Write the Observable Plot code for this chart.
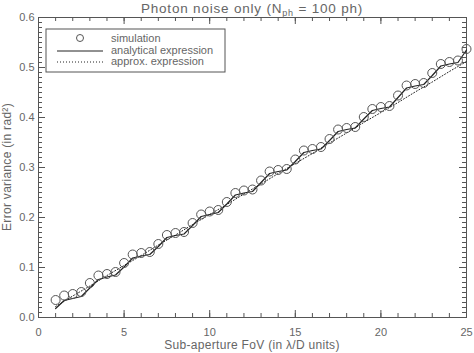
<!DOCTYPE html>
<html>
<head>
<meta charset="utf-8">
<script src="https://cdn.jsdelivr.net/npm/d3@7"></script>
<script src="https://cdn.jsdelivr.net/npm/@observablehq/plot@0.6"></script>
<style>
  html, body { margin: 0; padding: 0; background: #fff; }
  #chart svg { display: block; }
</style>
</head>
<body>
<div id="chart"></div>
<script>
// ---- data ----
const fov = [1,1.5,2,2.5,3,3.5,4,4.5,5,5.5,6,6.5,7,7.5,8,8.5,9,9.5,10,10.5,11,11.5,12,12.5,13,13.5,14,14.5,15,15.5,16,16.5,17,17.5,18,18.5,19,19.5,20,20.5,21,21.5,22,22.5,23,23.5,24,24.5,25];
const simulation = [0.035,0.044,0.047,0.051,0.069,0.084,0.087,0.091,0.109,0.126,0.129,0.131,0.147,0.165,0.169,0.171,0.189,0.206,0.212,0.215,0.231,0.249,0.254,0.256,0.274,0.292,0.295,0.297,0.316,0.334,0.337,0.341,0.357,0.376,0.379,0.381,0.401,0.417,0.421,0.423,0.444,0.464,0.467,0.469,0.489,0.507,0.511,0.514,0.537];
const analytical = [0.018,0.034,0.038,0.042,0.059,0.076,0.081,0.085,0.101,0.119,0.123,0.126,0.142,0.160,0.164,0.167,0.184,0.202,0.206,0.210,0.227,0.245,0.249,0.252,0.270,0.288,0.292,0.295,0.312,0.330,0.334,0.337,0.354,0.372,0.376,0.379,0.397,0.414,0.418,0.421,0.440,0.459,0.463,0.466,0.484,0.503,0.507,0.510,0.535];
const approxFov = [1,2,3,4,5,6,7,8,9,10,11,12,13,14,15,16,17,18,19,20,21,22,23,24,25];
const approx = [0.022,0.043,0.063,0.084,0.104,0.124,0.145,0.165,0.186,0.206,0.226,0.247,0.267,0.288,0.308,0.328,0.349,0.369,0.390,0.410,0.430,0.451,0.471,0.492,0.512];

const xMajorTicks = [0,5,10,15,20,25];
const xMinorTicks = [0,1,2,3,4,5,6,7,8,9,10,11,12,13,14,15,16,17,18,19,20,21,22,23,24,25];
const yMajorTicks = [0,0.1,0.2,0.3,0.4,0.5,0.6];
const yMinorTicks = d3.range(0, 61).map(i => i / 100);

const titleMain = "Photon noise only (N";
const titleSub = "ph";
const titleEnd = " = 100 ph)";
const xLabel = "Sub-aperture FoV (in λ/D units)";
const yLabel = "Error variance (in rad²)";
const legendLabels = ["simulation", "analytical expression", "approx. expression"];

// ---- layout ----
const W = 474, H = 353;
const mL = 38, mR = 8, mT = 17, mB = 36;
const pW = W - mL - mR, pH = H - mT - mB;
const ink = "#555";
const textInk = "#666";
const lineInk = "#222";

const simData = fov.map((x, i) => ({x, y: simulation[i]}));
const anaData = fov.map((x, i) => ({x, y: analytical[i]}));
const appData = approxFov.map((x, i) => ({x, y: approx[i]}));

const majX = 7, minX = 4, majY = 7, minY = 4;

const svg = Plot.plot({
  width: W, height: H,
  marginLeft: mL, marginRight: mR, marginTop: mT, marginBottom: mB,
  style: {fontFamily: "Liberation Sans, Arial, sans-serif", fontSize: "11px", color: textInk, background: "#fff"},
  x: {domain: [0, 25], axis: null},
  y: {domain: [0, 0.6], axis: null},
  marks: [
    Plot.frame({stroke: ink, strokeWidth: 1}),
    // bottom & top ticks
    Plot.ruleX(xMinorTicks, {x: d => d, insetTop: pH - minX, stroke: ink}),
    Plot.ruleX(xMinorTicks, {x: d => d, insetBottom: pH - minX, stroke: ink}),
    Plot.ruleX(xMajorTicks, {x: d => d, insetTop: pH - majX, stroke: ink}),
    Plot.ruleX(xMajorTicks, {x: d => d, insetBottom: pH - majX, stroke: ink}),
    // left & right ticks
    Plot.ruleY(yMinorTicks, {y: d => d, insetRight: pW - minY, stroke: ink}),
    Plot.ruleY(yMinorTicks, {y: d => d, insetLeft: pW - minY, stroke: ink}),
    Plot.ruleY(yMajorTicks, {y: d => d, insetRight: pW - majY, stroke: ink}),
    Plot.ruleY(yMajorTicks, {y: d => d, insetLeft: pW - majY, stroke: ink}),
    // tick labels
    Plot.axisX(xMajorTicks, {anchor: "bottom", tickSize: 0, tickPadding: 11, label: null, tickFormat: d3.format("d"), fill: textInk}),
    Plot.axisY(yMajorTicks, {anchor: "left", tickSize: 0, tickPadding: 4, label: null, tickFormat: d3.format(".1f"), fill: textInk}),
    // data
    Plot.line(appData, {x: "x", y: "y", stroke: lineInk, strokeWidth: 1, strokeDasharray: "1,2"}),
    Plot.line(anaData, {x: "x", y: "y", stroke: lineInk, strokeWidth: 1.2}),
    Plot.dot(simData, {x: "x", y: "y", r: 4.5, stroke: ink, strokeWidth: 1, fill: "none"})
  ]
});

const s = d3.select(svg);
const font = "Liberation Sans, Arial, sans-serif";

// title
const t = s.append("text")
  .attr("x", mL + pW / 2).attr("y", 13)
  .attr("text-anchor", "middle")
  .attr("letter-spacing", 0.8)
  .attr("font-family", font).attr("font-size", 13.5).attr("fill", textInk);
t.append("tspan").text(titleMain);
t.append("tspan").attr("font-size", 9).attr("dy", 3).text(titleSub);
t.append("tspan").attr("dy", -3).text(titleEnd);

// axis labels
s.append("text")
  .attr("x", mL + pW / 2).attr("y", H - 4)
  .attr("text-anchor", "middle")
  .attr("letter-spacing", 0.3)
  .attr("font-family", font).attr("font-size", 12).attr("fill", textInk)
  .text(xLabel);
s.append("text")
  .attr("transform", `translate(11,${mT + pH / 2}) rotate(-90)`)
  .attr("text-anchor", "middle")
  .attr("letter-spacing", 0.3)
  .attr("font-family", font).attr("font-size", 12).attr("fill", textInk)
  .text(yLabel);

// legend
const lg = s.append("g").attr("transform", "translate(46,29)");
lg.append("rect").attr("width", 179).attr("height", 43)
  .attr("fill", "#fff").attr("stroke", ink).attr("stroke-width", 1);
lg.append("circle").attr("cx", 34).attr("cy", 9).attr("r", 3.5)
  .attr("fill", "none").attr("stroke", ink);
lg.append("line").attr("x1", 11).attr("x2", 57).attr("y1", 22).attr("y2", 22)
  .attr("stroke", lineInk).attr("stroke-width", 1);
lg.append("line").attr("x1", 11).attr("x2", 57).attr("y1", 33).attr("y2", 33)
  .attr("stroke", lineInk).attr("stroke-width", 1).attr("stroke-dasharray", "1,2");
legendLabels.forEach((txt, i) => {
  lg.append("text").attr("x", 65).attr("y", 13 + i * 11.5)
    .attr("text-anchor", "start")
    .attr("font-family", font).attr("font-size", 11).attr("fill", textInk)
    .text(txt);
});

document.getElementById("chart").appendChild(svg);
</script>
</body>
</html>
